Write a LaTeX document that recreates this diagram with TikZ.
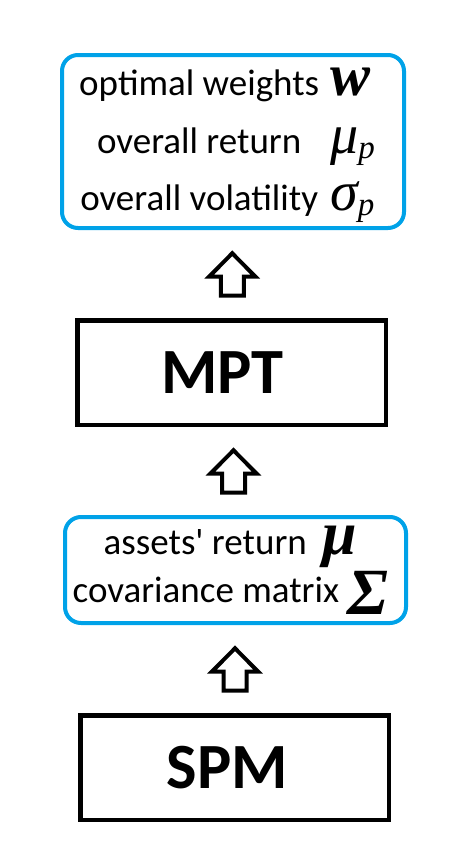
\documentclass[tikz,border=0pt]{standalone}
\usepackage{fontspec}
\setmainfont{Carlito}
\newfontfamily\timesfam{Liberation Serif}
\usetikzlibrary{calc}
\definecolor{boxblue}{RGB}{0,162,232}
\newcommand{\msym}[2][56]{{\timesfam\itshape\fontsize{#1}{#1}\selectfont #2}}
\newcommand{\msub}[1]{\raisebox{-5pt}{\timesfam\itshape\fontsize{33}{33}\selectfont #1}}
\begin{document}
\begin{tikzpicture}[x=1pt,y=1pt,
	infobox/.style={draw=boxblue,line width=4pt,rounded corners=16pt,inner sep=0pt},
	modelbox/.style={draw,line width=4.5pt,minimum width=308.5pt,minimum height=104.5pt,inner sep=0pt,font=\fontsize{64.5}{64.5}\selectfont\bfseries},
	blockup/.pic={\draw[line width=4pt,line join=miter] (-11.5,-21.5) -- (-11.5,-2.5) -- (-23,-2.5) -- (0,20.7) -- (23,-2.5) -- (11.5,-2.5) -- (11.5,-21.5) -- cycle;}]
	\useasboundingbox (0,0) rectangle (475,-868);
	\node[infobox,minimum width=342pt,minimum height=173pt,font=\fontsize{37}{57.5}\selectfont] (result) at (233,-141.5)
	    {\begin{tabular}{@{}c@{\hspace{11pt}}l@{\hspace{12pt}}}
	        optimal weights & \msym[60]{\bfseries w}\\
	        overall return & \msym{μ}\msub{p}\\
	        overall volatility & \msym{σ}\msub{p}
	    \end{tabular}};
	\node[modelbox] (mpt) at (231.5,-372.5) {MPT\rule{18pt}{0pt}};
	\node[infobox,minimum width=341pt,minimum height=106pt,align=center,font=\fontsize{37}{48}\selectfont] (inputs) at (235.5,-570)
	    {assets\textquotesingle{} return\hspace{16pt}\msym[62]{\bfseries μ}\rule{10pt}{0pt}\\
	     covariance matrix \raisebox{-12pt}{\msym[66]{\bfseries Σ}}\rule{10pt}{0pt}};
	\node[modelbox] (spm) at (234.5,-767.5) {SPM\rule{14pt}{0pt}};
	\pic at ($(result.south)!0.5!(mpt.north)$) {blockup};
	\pic at ($(mpt.south)!0.5!(inputs.north)$) {blockup};
	\pic at ($(inputs.south)!0.5!(spm.north)$) {blockup};
\end{tikzpicture}
\end{document}
